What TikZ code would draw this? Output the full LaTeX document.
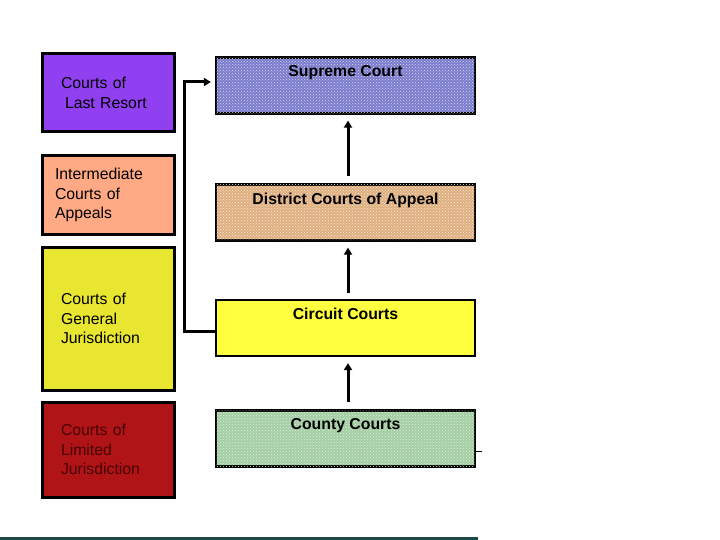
\documentclass[tikz,border=0pt]{standalone}
\usepackage{fontspec}
\setmainfont{Liberation Sans}
\usetikzlibrary{arrows.meta,positioning,patterns}
\definecolor{lastresort}{RGB}{144,64,240}
\definecolor{intermed}{RGB}{255,170,132}
\definecolor{general}{RGB}{232,230,48}
\definecolor{limited}{RGB}{176,20,22}
\definecolor{limitedtext}{RGB}{70,4,6}
\definecolor{supreme}{RGB}{124,124,206}
\definecolor{district}{RGB}{224,176,128}
\definecolor{circuit}{RGB}{255,255,64}
\definecolor{county}{RGB}{164,206,164}
\definecolor{bottombar}{RGB}{30,72,72}

\begin{document}
\begin{tikzpicture}[x=1pt, y=-1pt, font=\fontsize{15.8}{19.5}\selectfont,
    tierbox/.style={draw, line width=3pt, minimum width=132pt, text width=94pt, inner xsep=19pt, align=left},
    levelbox/.style={draw, line width=2.2pt, minimum width=259pt, minimum height=56pt},
    dotted fill/.style={postaction={pattern=crosshatch dots, pattern color=white!#1}},
    levellabel/.style={anchor=north, inner sep=0pt, yshift=-9pt, font=\fontsize{15.8}{17}\selectfont\bfseries},
    uparrow/.style={line width=3pt, -{Triangle[length=7pt,width=8pt]}},
    bracket/.style={line width=3pt, -{Triangle[length=7pt,width=8pt]}}]
  \useasboundingbox (0,0) rectangle (720,540);

  % left column: court tiers
  \node[tierbox, fill=lastresort, minimum height=78pt] (lastres) at (108,93) {Courts of\\\hspace{4pt}Last Resort};
  \node[tierbox, fill=intermed, minimum height=78pt, text width=106pt, inner xsep=13pt] (interm) at (108,195) {Intermediate\\Courts of\\Appeals};
  \node[tierbox, fill=general, minimum height=143pt] (genjur) at (108,318.5) {Courts of\\General\\Jurisdiction};
  \node[tierbox, fill=limited, minimum height=95pt, text=limitedtext] (limjur) at (108,449.5) {Courts of\\Limited\\Jurisdiction};

  % right column: Florida courts
  \node[levelbox, fill=supreme, dotted fill=70!supreme, label={[levellabel]north:Supreme Court}] (sup) at (345.5,85.5) {};
  \node[levelbox, fill=district, dotted fill=70!district, label={[levellabel]north:District Courts of Appeal}] (dca) at (345.5,212.5) {};
  \node[levelbox, fill=circuit, label={[levellabel]north:Circuit Courts}] (cir) at (345.5,328) {};
  \node[levelbox, fill=county, dotted fill=60!county, label={[levellabel]north:County Courts}] (cty) at (345.5,438.5) {};

  % appeals
  \draw[uparrow, shorten <=7pt, shorten >=6pt] ([xshift=2.5pt]dca.north) -- ([xshift=2.5pt]sup.south);
  \draw[uparrow, shorten <=6pt, shorten >=6pt] ([xshift=2.5pt]cir.north) -- ([xshift=2.5pt]dca.south);
  \draw[uparrow, shorten <=7pt, shorten >=6pt] ([xshift=2.5pt]cty.north) -- ([xshift=2.5pt]cir.south);
  \draw[bracket, shorten >=4pt] ([yshift=-3pt]cir.west) -- ++(-30,0) |- ([yshift=3.5pt]sup.west);

  \coordinate (ctytick) at ([xshift=6pt,yshift=-13pt]cty.east);
  \draw[line width=1pt] ([yshift=-13pt]cty.east) -- (ctytick);
  \draw[bottombar, line width=3pt] (0,538.5) -- (478,538.5);
\end{tikzpicture}
\end{document}
